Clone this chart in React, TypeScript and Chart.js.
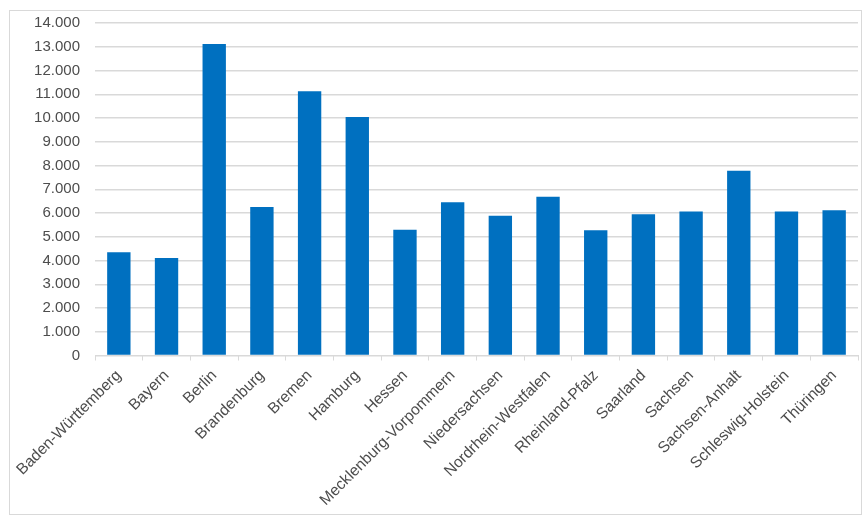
import React, { useEffect, useRef } from "react";
import { Chart, registerables } from "chart.js";

Chart.register(...registerables);

const categories = [
  "Baden-Württemberg", "Bayern", "Berlin", "Brandenburg", "Bremen", "Hamburg", "Hessen",
  "Mecklenburg-Vorpommern", "Niedersachsen", "Nordrhein-Westfalen", "Rheinland-Pfalz",
  "Saarland", "Sachsen", "Sachsen-Anhalt", "Schleswig-Holstein", "Thüringen",
];
const values = [4350, 4110, 13120, 6250, 11130, 10040, 5300, 6450, 5880, 6680, 5270, 5950, 6060, 7780, 6060, 6120];
const yMin = 0;
const yMax = 14000;
const yStep = 1000;

const fmt = (v: number) => String(v).replace(/\B(?=(\d{3})+(?!\d))/g, ".");

export default function App() {
  const ref = useRef<HTMLCanvasElement | null>(null);
  useEffect(() => {
    if (!ref.current) return;
    const chart = new Chart(ref.current, {
      type: "bar",
      data: {
        labels: categories,
        datasets: [
          {
            data: values,
            backgroundColor: "#0070C0",
            barPercentage: 0.49,
            categoryPercentage: 1,
          },
        ],
      },
      options: {
        animation: false,
        responsive: false,
        maintainAspectRatio: false,
        layout: { padding: { top: 0, right: 3, left: 0, bottom: 0 } },
        plugins: { legend: { display: false }, tooltip: { enabled: false } },
        scales: {
          x: {
            grid: { display: true, drawOnChartArea: false, drawTicks: true, tickLength: 5, color: "#d9d9d9", offset: true },
            border: { display: true, color: "#d9d9d9" },
            ticks: {
              minRotation: 45,
              maxRotation: 45,
              autoSkip: false,
              padding: 6,
              color: "#4d4d4d",
              font: { family: "'Liberation Sans', Arial, sans-serif", size: 15.6 },
            },
            afterFit: (s: any) => { s.height = 170.5; },
          },
          y: {
            min: yMin,
            max: yMax,
            grid: { color: "#d9d9d9", drawTicks: false, lineWidth: 1.5 },
            border: { display: false },
            ticks: {
              stepSize: yStep,
              padding: 15,
              color: "#4d4d4d",
              font: { family: "'Liberation Sans', Arial, sans-serif", size: 15 },
              callback: (v: any) => fmt(Number(v)),
            },
            afterFit: (s: any) => { s.width = 85; },
          },
        },
      },
    });
    return () => chart.destroy();
  }, []);
  return (
    <div
      style={{
        position: "absolute",
        left: 9,
        top: 10,
        width: 851,
        height: 503,
        border: "1px solid #d9d9d9",
        background: "#fff",
        overflow: "hidden",
      }}
    >
      <canvas
        ref={ref}
        width={851}
        height={527}
        style={{ display: "block", position: "absolute", left: 0, top: -12 }}
      />
    </div>
  );
}
